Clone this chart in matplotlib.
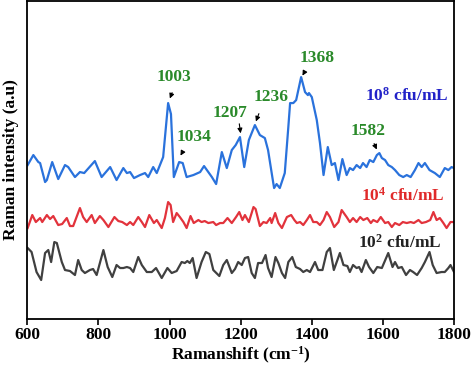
import matplotlib
matplotlib.use('Agg')
import matplotlib.pyplot as plt

plt.rcParams['font.family'] = ['Liberation Serif', 'DejaVu Serif']
plt.rcParams['font.weight'] = 'bold'
plt.rcParams['mathtext.fontset'] = 'custom'
plt.rcParams['mathtext.rm'] = 'Liberation Serif:bold'
plt.rcParams['mathtext.bf'] = 'Liberation Serif:bold'
plt.rcParams['mathtext.default'] = 'rm'

# spectra, 10^8 / 10^4 / 10^2 cfu/mL (offset for display)
w_hi = [601, 617, 631, 636, 650, 655, 670, 687, 706, 715, 734, 748, 760, 790, 809, 833, 851, 870, 880,
        889, 900, 917, 931, 940, 954, 964, 982, 996, 1004, 1012, 1027, 1037, 1048, 1067, 1086, 1097,
        1109, 1119, 1131, 1147, 1161, 1175, 1186, 1198, 1210, 1223, 1240, 1254, 1268, 1277, 1289, 1294,
        1301, 1310, 1324, 1334, 1339, 1348, 1356, 1370, 1381, 1389, 1392, 1400, 1414, 1423, 1433, 1445,
        1456, 1465, 1475, 1486, 1498, 1507, 1516, 1526, 1536, 1544, 1554, 1563, 1573, 1583, 1590, 1597,
        1606, 1615, 1625, 1634, 1646, 1657, 1667, 1678, 1690, 1700, 1709, 1718, 1731, 1746, 1760, 1774,
        1784, 1793, 1800]
i_hi = [154, 164, 157, 156, 137, 139, 157, 140, 154, 152, 142, 147, 146, 158, 142, 152, 139, 151, 146,
        147, 141, 144, 146, 142, 152, 146, 162, 216, 205, 142, 157, 156, 142, 144, 147, 153,
        147, 142, 135, 167, 151, 169, 174, 182, 152, 179, 194, 184, 181, 169, 142, 131,
        135, 131, 146, 192, 216, 216, 219, 242, 227, 224, 226, 222, 199, 176, 144, 172,
        154, 156, 139, 160, 144, 151, 149, 154, 151, 156, 152, 159, 157, 164, 166, 161,
        159, 154, 152, 149, 144, 142, 144, 142, 149, 156, 152, 156, 149, 146, 142, 151,
        149, 152, 151]

w_mid = [601, 614, 624, 636, 642, 655, 664, 673, 687, 698, 711, 720, 729, 748, 757, 767, 781, 790, 804,
         814, 828, 845, 856, 867, 880, 889, 898, 912, 922, 931, 943, 956, 964, 978, 987, 996, 1003,
         1010, 1020, 1029, 1039, 1048, 1059, 1068, 1081, 1090, 1099, 1109, 1123, 1131, 1142, 1151,
         1163, 1175, 1187, 1196, 1205, 1212, 1223, 1236, 1242, 1254, 1264, 1273, 1283, 1287, 1297,
         1306, 1316, 1330, 1342, 1351, 1358, 1367, 1376, 1386, 1395, 1404, 1414, 1423, 1433, 1442,
         1451, 1463, 1475, 1484, 1498, 1507, 1516, 1526, 1536, 1545, 1556, 1566, 1573, 1584, 1594,
         1606, 1615, 1625, 1634, 1646, 1656, 1667, 1678, 1687, 1700, 1709, 1721, 1733, 1742, 1751,
         1760, 1770, 1779, 1790, 1800]
i_mid = [91, 104, 97, 101, 97, 104, 100, 103, 94, 95, 101, 93, 93, 111, 102, 97, 104, 96, 103,
         99, 92, 102, 98, 97, 94, 97, 94, 102, 97, 92, 104, 96, 99, 91, 101, 117, 114,
         97, 106, 102, 97, 91, 103, 96, 99, 97, 98, 96, 97, 94, 96, 96,
         101, 96, 102, 107, 99, 104, 97, 112, 110, 93, 97, 96, 101, 96, 106,
         96, 91, 102, 104, 99, 96, 97, 94, 99, 104, 97, 97, 94, 99, 107,
         102, 92, 97, 109, 102, 97, 101, 97, 102, 99, 101, 96, 99, 97, 102,
         96, 97, 92, 96, 94, 97, 96, 97, 96, 99, 96, 97, 99, 107, 99,
         101, 96, 91, 97, 97]

w_lo = [601, 612, 626, 639, 650, 659, 667, 676, 683, 697, 706, 720, 734, 743, 753, 762, 776, 785, 795,
        814, 826, 839, 851, 861, 870, 880, 889, 898, 912, 922, 936, 950, 962, 978, 994, 1006, 1020,
        1034, 1043, 1050, 1057, 1065, 1076, 1090, 1102, 1112, 1123, 1140, 1151, 1161, 1175, 1184,
        1193, 1203, 1212, 1221, 1231, 1240, 1249, 1260, 1270, 1277, 1287, 1298, 1306, 1316, 1325,
        1334, 1345, 1355, 1367, 1376, 1386, 1395, 1409, 1418, 1430, 1442, 1451, 1462, 1470, 1479,
        1489, 1500, 1507, 1516, 1526, 1533, 1540, 1552, 1561, 1573, 1584, 1597, 1615, 1627, 1634,
        1643, 1653, 1665, 1676, 1685, 1696, 1709, 1718, 1731, 1740, 1751, 1765, 1774, 1784, 1790, 1800]
i_lo = [71, 67, 47, 39, 66, 69, 57, 77, 76, 57, 49, 48, 44, 59, 49, 46, 49, 50, 44,
        69, 52, 42, 54, 51, 51, 52, 51, 47, 62, 54, 47, 47, 51, 41, 51, 46, 48,
        57, 56, 58, 56, 61, 41, 57, 67, 65, 49, 43, 54, 59, 46, 50,
        57, 54, 61, 62, 46, 41, 56, 56, 64, 51, 42, 62, 56, 46, 41,
        57, 62, 52, 50, 47, 49, 47, 57, 49, 49, 67, 71, 49, 57, 66,
        54, 53, 47, 54, 51, 52, 47, 59, 52, 46, 52, 51, 66, 52, 57,
        51, 52, 44, 49, 47, 44, 51, 57, 67, 54, 46, 47, 47, 51, 54, 47]

peak_labels = ['1003', '1034', '1207', '1236', '1368', '1582']
label_xy = [(1013, 242), (1069, 182), (1170, 206), (1285, 222), (1414, 261), (1558, 188)]
arrow_from = [(1010, 229), (1038, 168), (1195, 198), (1254, 208), (1384, 250), (1572, 178)]
arrow_to = [(998, 218), (1027, 161), (1201, 183), (1240, 195), (1370, 241), (1586, 167)]

series_names = ['10$^{8}$ cfu/mL', '10$^{4}$ cfu/mL', '10$^{2}$ cfu/mL']

fig = plt.figure(figsize=(4.74, 3.69), dpi=100)
ax = fig.add_axes([0.0576, 0.1355, 0.9003, 0.8615])

ax.plot(w_hi, i_hi, color='#2a72dc', lw=1.6)
ax.plot(w_mid, i_mid, color='#e2333c', lw=1.6)
ax.plot(w_lo, i_lo, color='#404040', lw=1.6)

for lab, xy, a0, a1 in zip(peak_labels, label_xy, arrow_from, arrow_to):
    ax.text(xy[0], xy[1], lab, color='#2a8a2a', fontsize=12.5, fontweight='bold',
            ha='center', va='center')
    ax.annotate('', xy=a1, xytext=a0,
                arrowprops=dict(arrowstyle='-|>', color='black', lw=0.8, mutation_scale=7))

ax.text(1668, 223, series_names[0], color='#2222c8', fontsize=12.5, ha='center', va='center')
ax.text(1657, 123, series_names[1], color='#e02a2a', fontsize=12.5, ha='center', va='center')
ax.text(1648, 76, series_names[2], color='#222222', fontsize=12.5, ha='center', va='center')

ax.set_xlim(600, 1800)
ax.set_ylim(0, 318)
ax.set_xticks([600, 800, 1000, 1200, 1400, 1600, 1800])
ax.set_yticks([])
ax.tick_params(axis='x', direction='out', length=4, width=1.2, labelsize=12.5, pad=2)
for s in ax.spines.values():
    s.set_linewidth(1.3)
ax.set_xlabel('Ramanshift (cm$^{-1}$)', fontsize=12.5, fontweight='bold', labelpad=1)
ax.set_ylabel('Raman intensity (a.u)', fontsize=12.5, fontweight='bold', labelpad=6)

fig.savefig('out.png', dpi=100)
